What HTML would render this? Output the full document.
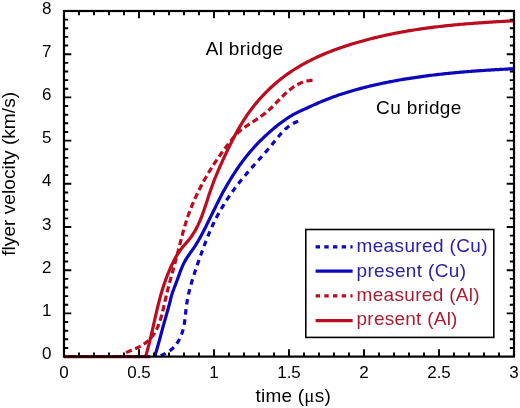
<!DOCTYPE html>
<html><head><meta charset="utf-8"><style>
html,body{margin:0;padding:0;background:#fff;}
body{width:520px;height:408px;overflow:hidden;}
svg{display:block;}
text{font-family:"Liberation Sans",Arial,sans-serif;}
</style></head><body>
<svg width="520" height="408" viewBox="0 0 520 408">
<rect width="520" height="408" fill="#fff"/>
<g fill="none" stroke-width="3.2">
<path d="M64,356.6 H150" stroke="#bb0d1f"/>
<path d="M158.5,356.6 L158.21,356.23 L159.19,355.96 L160.16,355.66 L161.10,355.34 L162.04,354.99 L162.96,354.62 L163.86,354.22 L164.74,353.80 L165.61,353.36 L166.46,352.89 L167.29,352.41 L168.10,351.90 L168.90,351.36 L169.67,350.81 L170.43,350.24 L171.16,349.64 L171.88,349.03 L172.58,348.40 L173.25,347.75 L173.90,347.08 L174.54,346.39 L175.15,345.68 L175.74,344.96 L176.31,344.22 L176.85,343.47 L177.38,342.70 L177.89,341.92 L178.37,341.12 L178.84,340.31 L179.29,339.49 L179.72,338.66 L180.13,337.81 L180.52,336.96 L180.89,336.09 L181.25,335.22 L181.59,334.34 L181.91,333.44 L182.21,332.55 L182.50,331.64 L182.77,330.73 L183.02,329.82 L183.26,328.90 L183.48,327.97 L183.69,327.05 L183.88,326.11 L184.06,325.18 L184.22,324.24 L184.38,323.30 L184.53,322.36 L184.66,321.42 L184.79,320.47 L184.91,319.52 L185.03,318.57 L185.14,317.62 L185.24,316.67 L185.34,315.72 L185.44,314.76 L185.54,313.81 L185.64,312.86 L185.74,311.90 L185.84,310.95 L185.94,310.00 L186.04,309.05 L186.15,308.10 L186.27,307.15 L186.39,306.21 L186.52,305.26 L186.66,304.32 L186.80,303.38 L186.95,302.44 L187.11,301.51 L187.27,300.57 L187.44,299.64 L187.62,298.71 L187.80,297.78 L187.98,296.85 L188.18,295.92 L188.38,295.00 L188.58,294.07 L188.79,293.15 L189.01,292.23 L189.23,291.31 L189.45,290.39 L189.68,289.48 L189.92,288.56 L190.16,287.65 L190.40,286.73 L190.65,285.82 L190.90,284.91 L191.16,284.00 L191.42,283.09 L191.68,282.19 L191.95,281.28 L192.22,280.37 L192.49,279.47 L192.77,278.56 L193.05,277.66 L193.34,276.76 L193.62,275.86 L193.91,274.95 L194.21,274.05 L194.50,273.15 L194.80,272.25 L195.10,271.35 L195.40,270.45 L195.70,269.56 L196.01,268.66 L196.31,267.76 L196.62,266.86 L196.93,265.97 L197.24,265.07 L197.55,264.17 L197.86,263.28 L198.18,262.38 L198.49,261.48 L198.81,260.59 L199.12,259.69 L199.44,258.79 L199.75,257.90 L200.07,257.00 L200.39,256.10 L200.71,255.21 L201.03,254.31 L201.35,253.42 L201.67,252.52 L201.99,251.63 L202.32,250.74 L202.64,249.84 L202.97,248.95 L203.30,248.06 L203.63,247.17 L203.96,246.27 L204.30,245.38 L204.63,244.50 L204.97,243.61 L205.31,242.72 L205.65,241.83 L205.99,240.95 L206.34,240.06 L206.69,239.18 L207.04,238.30 L207.39,237.42 L207.75,236.54 L208.11,235.66 L208.47,234.78 L208.84,233.91 L209.20,233.03 L209.57,232.16 L209.95,231.29 L210.32,230.42 L210.70,229.55 L211.09,228.69 L211.47,227.83 L211.87,226.96 L212.26,226.10 L212.66,225.24 L213.06,224.39 L213.46,223.53 L213.87,222.68 L214.29,221.83 L214.70,220.98 L215.13,220.14 L215.55,219.29 L215.98,218.45 L216.42,217.61 L216.85,216.78 L217.30,215.94 L217.74,215.11 L218.19,214.28 L218.65,213.45 L219.10,212.62 L219.57,211.80 L220.03,210.98 L220.50,210.16 L220.97,209.34 L221.45,208.53 L221.93,207.71 L222.41,206.90 L222.90,206.09 L223.39,205.29 L223.89,204.48 L224.39,203.68 L224.89,202.88 L225.40,202.08 L225.90,201.28 L226.42,200.49 L226.93,199.70 L227.45,198.91 L227.98,198.12 L228.50,197.34 L229.03,196.55 L229.57,195.77 L230.10,194.99 L230.64,194.21 L231.18,193.44 L231.73,192.67 L232.28,191.90 L232.83,191.13 L233.39,190.36 L233.94,189.60 L234.51,188.83 L235.07,188.07 L235.64,187.31 L236.21,186.56 L236.78,185.80 L237.36,185.05 L237.94,184.30 L238.52,183.55 L239.10,182.81 L239.69,182.06 L240.28,181.32 L240.88,180.58 L241.47,179.84 L242.07,179.11 L242.67,178.37 L243.28,177.64 L243.88,176.91 L244.49,176.18 L245.10,175.46 L245.72,174.73 L246.33,174.01 L246.95,173.29 L247.57,172.57 L248.19,171.85 L248.81,171.13 L249.43,170.42 L250.06,169.70 L250.69,168.99 L251.31,168.27 L251.94,167.56 L252.57,166.85 L253.20,166.14 L253.83,165.43 L254.46,164.72 L255.10,164.01 L255.73,163.30 L256.36,162.59 L256.99,161.88 L257.63,161.17 L258.26,160.46 L258.89,159.76 L259.52,159.05 L260.15,158.34 L260.78,157.63 L261.41,156.92 L262.04,156.21 L262.67,155.50 L263.30,154.78 L263.92,154.07 L264.55,153.36 L265.17,152.64 L265.79,151.93 L266.41,151.21 L267.03,150.49 L267.64,149.78 L268.26,149.06 L268.87,148.33 L269.48,147.61 L270.09,146.89 L270.69,146.16 L271.29,145.43 L271.89,144.70 L272.49,143.97 L273.08,143.23 L273.67,142.50 L274.26,141.76 L274.85,141.03 L275.44,140.29 L276.03,139.56 L276.62,138.82 L277.21,138.09 L277.80,137.37 L278.40,136.65 L279.00,135.93 L279.61,135.22 L280.22,134.51 L280.84,133.81 L281.46,133.12 L282.09,132.44 L282.73,131.77 L283.38,131.10 L284.04,130.45 L284.71,129.81 L285.39,129.17 L286.08,128.56 L286.78,127.95 L287.49,127.36 L288.22,126.78 L288.96,126.22 L289.72,125.67 L290.49,125.14 L291.28,124.62 L292.09,124.13 L292.91,123.65 L293.75,123.19 L294.61,122.75 L295.49,122.33 L296.39,121.94 L297.31,121.56 L298.26,121.21" stroke="#0c06bd" stroke-dasharray="5.5 4.7" stroke-dashoffset="7.2"/>
<path d="M122.96,354.04 L123.95,353.53 L124.97,353.05 L126.00,352.58 L127.06,352.12 L128.12,351.67 L129.21,351.22 L130.30,350.78 L131.40,350.33 L132.50,349.88 L133.61,349.43 L134.72,348.96 L135.82,348.48 L136.91,347.98 L138.00,347.46 L139.07,346.92 L140.13,346.35 L141.18,345.76 L142.20,345.15 L143.21,344.51 L144.19,343.85 L145.16,343.17 L146.09,342.46 L147.00,341.73 L147.88,340.97 L148.73,340.20 L149.55,339.39 L150.34,338.57 L151.10,337.72 L151.82,336.85 L152.52,335.96 L153.18,335.04 L153.82,334.11 L154.44,333.16 L155.02,332.20 L155.59,331.21 L156.13,330.21 L156.64,329.19 L157.14,328.16 L157.62,327.11 L158.07,326.05 L158.51,324.98 L158.93,323.90 L159.33,322.80 L159.72,321.69 L160.09,320.57 L160.44,319.45 L160.79,318.31 L161.12,317.17 L161.44,316.02 L161.76,314.87 L162.06,313.71 L162.35,312.54 L162.64,311.37 L162.92,310.20 L163.20,309.02 L163.47,307.84 L163.74,306.67 L164.00,305.49 L164.27,304.31 L164.53,303.13 L164.80,301.96 L165.07,300.78 L165.33,299.61 L165.61,298.45 L165.88,297.29 L166.16,296.13 L166.44,294.97 L166.72,293.82 L167.01,292.67 L167.30,291.52 L167.59,290.38 L167.88,289.24 L168.17,288.10 L168.47,286.96 L168.76,285.83 L169.06,284.70 L169.36,283.57 L169.66,282.44 L169.97,281.31 L170.27,280.18 L170.58,279.06 L170.88,277.94 L171.19,276.81 L171.49,275.69 L171.80,274.57 L172.11,273.45 L172.42,272.33 L172.73,271.21 L173.04,270.09 L173.34,268.97 L173.65,267.86 L173.96,266.74 L174.27,265.62 L174.58,264.50 L174.88,263.38 L175.19,262.25 L175.49,261.13 L175.80,260.01 L176.10,258.88 L176.40,257.76 L176.70,256.63 L177.00,255.50 L177.30,254.37 L177.59,253.24 L177.89,252.10 L178.18,250.97 L178.47,249.83 L178.76,248.69 L179.05,247.55 L179.34,246.41 L179.63,245.26 L179.92,244.12 L180.21,242.98 L180.50,241.83 L180.80,240.69 L181.09,239.54 L181.39,238.40 L181.69,237.26 L181.99,236.11 L182.29,234.97 L182.60,233.83 L182.90,232.69 L183.22,231.55 L183.53,230.41 L183.85,229.28 L184.18,228.14 L184.50,227.01 L184.84,225.88 L185.18,224.75 L185.52,223.62 L185.87,222.50 L186.22,221.38 L186.58,220.26 L186.95,219.15 L187.32,218.04 L187.70,216.93 L188.09,215.82 L188.48,214.72 L188.88,213.62 L189.28,212.52 L189.69,211.42 L190.10,210.33 L190.52,209.24 L190.95,208.16 L191.38,207.07 L191.82,205.99 L192.26,204.91 L192.71,203.84 L193.16,202.76 L193.62,201.69 L194.09,200.63 L194.56,199.56 L195.04,198.50 L195.52,197.44 L196.00,196.38 L196.50,195.32 L196.99,194.27 L197.50,193.22 L198.01,192.17 L198.52,191.12 L199.04,190.08 L199.56,189.04 L200.09,188.00 L200.62,186.96 L201.16,185.93 L201.71,184.90 L202.26,183.87 L202.81,182.84 L203.37,181.81 L203.93,180.79 L204.50,179.77 L205.08,178.75 L205.65,177.73 L206.24,176.72 L206.82,175.71 L207.42,174.70 L208.01,173.69 L208.62,172.68 L209.22,171.68 L209.83,170.68 L210.45,169.68 L211.07,168.68 L211.69,167.68 L212.32,166.69 L212.95,165.70 L213.59,164.71 L214.23,163.72 L214.88,162.73 L215.53,161.75 L216.18,160.77 L216.84,159.80 L217.50,158.82 L218.17,157.85 L218.84,156.88 L219.51,155.91 L220.19,154.95 L220.87,153.99 L221.56,153.03 L222.25,152.07 L222.94,151.12 L223.63,150.17 L224.33,149.22 L225.04,148.28 L225.74,147.34 L226.45,146.40 L227.17,145.47 L227.89,144.54 L228.61,143.61 L229.33,142.68 L230.06,141.76 L230.79,140.84 L231.52,139.93 L232.26,139.02 L233.01,138.12 L233.77,137.23 L234.53,136.35 L235.31,135.49 L236.10,134.63 L236.91,133.79 L237.73,132.97 L238.58,132.17 L239.44,131.38 L240.32,130.62 L241.22,129.88 L242.13,129.15 L243.07,128.45 L244.01,127.75 L244.97,127.07 L245.94,126.41 L246.92,125.75 L247.90,125.10 L248.89,124.45 L249.87,123.81 L250.86,123.17 L251.85,122.53 L252.83,121.89 L253.81,121.25 L254.79,120.61 L255.76,119.96 L256.73,119.32 L257.69,118.66 L258.65,118.00 L259.61,117.34 L260.56,116.66 L261.50,115.98 L262.43,115.29 L263.36,114.59 L264.28,113.88 L265.20,113.16 L266.10,112.42 L267.00,111.68 L267.89,110.91 L268.76,110.14 L269.63,109.35 L270.50,108.55 L271.35,107.73 L272.20,106.91 L273.04,106.08 L273.88,105.24 L274.72,104.39 L275.55,103.54 L276.38,102.69 L277.20,101.83 L278.03,100.98 L278.86,100.12 L279.68,99.27 L280.51,98.41 L281.35,97.57 L282.18,96.72 L283.02,95.89 L283.86,95.06 L284.71,94.24 L285.57,93.43 L286.43,92.64 L287.30,91.86 L288.18,91.09 L289.07,90.33 L289.97,89.60 L290.88,88.88 L291.80,88.18 L292.73,87.51 L293.68,86.85 L294.65,86.22 L295.62,85.61 L296.62,85.03 L297.63,84.48 L298.65,83.95 L299.70,83.45 L300.76,82.99 L301.85,82.56 L302.95,82.16 L304.08,81.79 L305.23,81.46 L306.40,81.17 L307.60,80.92 L308.82,80.71 L310.06,80.54 L311.33,80.41 L312.63,80.33" stroke="#bb0d1f" stroke-dasharray="6.2 3.55" stroke-dashoffset="6.25"/>
<path d="M155.5,356.6 L155.37,354.21 L155.88,352.58 L156.38,350.94 L156.87,349.30 L157.35,347.65 L157.82,346.00 L158.29,344.35 L158.75,342.69 L159.20,341.04 L159.65,339.38 L160.10,337.71 L160.54,336.05 L160.98,334.39 L161.43,332.73 L161.87,331.07 L162.32,329.40 L162.77,327.74 L163.23,326.09 L163.69,324.43 L164.15,322.78 L164.62,321.13 L165.09,319.48 L165.56,317.84 L166.03,316.20 L166.50,314.56 L166.96,312.93 L167.42,311.30 L167.88,309.68 L168.32,308.06 L168.76,306.44 L169.19,304.83 L169.61,303.22 L170.01,301.61 L170.40,300.02 L170.80,298.42 L171.21,296.83 L171.64,295.24 L172.12,293.66 L172.64,292.08 L173.21,290.51 L173.80,288.95 L174.40,287.41 L175.00,285.89 L175.57,284.40 L176.13,282.94 L176.67,281.50 L177.21,280.05 L177.73,278.59 L178.27,277.11 L178.81,275.60 L179.36,274.06 L179.93,272.50 L180.52,270.94 L181.13,269.36 L181.77,267.78 L182.45,266.21 L183.16,264.65 L183.91,263.11 L184.71,261.59 L185.56,260.10 L186.44,258.63 L187.37,257.19 L188.32,255.76 L189.29,254.34 L190.27,252.93 L191.27,251.53 L192.26,250.13 L193.25,248.72 L194.22,247.31 L195.17,245.88 L196.10,244.45 L197.01,243.00 L197.89,241.54 L198.76,240.06 L199.60,238.58 L200.43,237.09 L201.25,235.59 L202.05,234.08 L202.84,232.56 L203.62,231.04 L204.39,229.51 L205.16,227.98 L205.92,226.44 L206.67,224.90 L207.43,223.36 L208.19,221.81 L208.94,220.27 L209.70,218.72 L210.46,217.17 L211.22,215.63 L211.98,214.09 L212.74,212.54 L213.50,211.00 L214.27,209.46 L215.03,207.93 L215.79,206.40 L216.55,204.87 L217.31,203.34 L218.07,201.82 L218.83,200.31 L219.59,198.80 L220.35,197.30 L221.12,195.80 L221.89,194.31 L222.66,192.83 L223.45,191.36 L224.25,189.90 L225.07,188.44 L225.90,186.99 L226.74,185.55 L227.59,184.10 L228.45,182.66 L229.32,181.21 L230.20,179.77 L231.09,178.32 L232.00,176.87 L232.91,175.43 L233.83,173.99 L234.76,172.55 L235.71,171.11 L236.66,169.68 L237.63,168.26 L238.61,166.84 L239.60,165.43 L240.60,164.02 L241.61,162.62 L242.63,161.23 L243.67,159.86 L244.72,158.49 L245.78,157.13 L246.85,155.79 L247.93,154.45 L249.03,153.13 L250.13,151.82 L251.25,150.51 L252.38,149.23 L253.53,147.95 L254.68,146.68 L255.84,145.42 L257.02,144.17 L258.20,142.94 L259.40,141.71 L260.61,140.50 L261.83,139.29 L263.06,138.10 L264.30,136.91 L265.55,135.74 L266.81,134.58 L268.08,133.42 L269.36,132.28 L270.66,131.14 L271.96,130.02 L273.27,128.90 L274.59,127.80 L275.92,126.70 L277.26,125.62 L278.61,124.55 L279.97,123.50 L281.35,122.46 L282.73,121.45 L284.12,120.45 L285.51,119.47 L286.92,118.51 L288.34,117.58 L289.77,116.68 L291.21,115.79 L292.66,114.94 L294.12,114.12 L295.59,113.33 L297.06,112.57 L298.54,111.84 L300.03,111.15 L301.52,110.48 L303.03,109.81 L304.54,109.13 L306.07,108.43 L307.60,107.74 L309.14,107.03 L310.69,106.32 L312.25,105.61 L313.81,104.91 L315.38,104.20 L316.96,103.50 L318.54,102.81 L320.12,102.13 L321.71,101.46 L323.30,100.80 L324.90,100.16 L326.50,99.52 L328.10,98.89 L329.71,98.28 L331.32,97.67 L332.94,97.08 L334.55,96.49 L336.17,95.92 L337.80,95.35 L339.42,94.80 L341.05,94.25 L342.69,93.72 L344.32,93.19 L345.96,92.67 L347.60,92.16 L349.25,91.66 L350.89,91.17 L352.54,90.69 L354.19,90.22 L355.85,89.75 L357.50,89.29 L359.16,88.84 L360.82,88.40 L362.48,87.96 L364.15,87.54 L365.81,87.12 L367.48,86.70 L369.15,86.30 L370.82,85.90 L372.49,85.50 L374.17,85.12 L375.84,84.74 L377.52,84.37 L379.20,84.00 L380.88,83.64 L382.56,83.28 L384.24,82.93 L385.93,82.59 L387.61,82.25 L389.30,81.92 L390.98,81.59 L392.67,81.27 L394.36,80.95 L396.05,80.64 L397.74,80.33 L399.43,80.03 L401.12,79.74 L402.82,79.45 L404.51,79.16 L406.21,78.88 L407.90,78.60 L409.60,78.33 L411.30,78.07 L413.00,77.81 L414.70,77.55 L416.40,77.30 L418.10,77.05 L419.80,76.81 L421.50,76.57 L423.21,76.34 L424.91,76.11 L426.62,75.88 L428.32,75.66 L430.03,75.45 L431.73,75.23 L433.44,75.02 L435.15,74.82 L436.86,74.62 L438.57,74.42 L440.28,74.23 L441.99,74.04 L443.70,73.86 L445.41,73.67 L447.12,73.50 L448.83,73.32 L450.54,73.15 L452.25,72.98 L453.97,72.82 L455.68,72.66 L457.39,72.50 L459.11,72.34 L460.82,72.19 L462.54,72.04 L464.25,71.90 L465.96,71.76 L467.68,71.62 L469.39,71.48 L471.11,71.34 L472.83,71.21 L474.54,71.08 L476.26,70.96 L477.97,70.83 L479.69,70.71 L481.40,70.59 L483.12,70.48 L484.84,70.36 L486.55,70.25 L488.27,70.14 L489.98,70.03 L491.70,69.93 L493.41,69.82 L495.13,69.72 L496.84,69.62 L498.56,69.53 L500.27,69.43 L501.99,69.33 L503.70,69.24 L505.42,69.15 L507.13,69.06 L508.85,68.97 L510.56,68.88 L512.27,68.80 L513.99,68.71" stroke="#0c06bd"/>
<path d="M145.5,356.6 L146.27,354.18 L146.79,352.39 L147.29,350.59 L147.79,348.79 L148.27,347.00 L148.74,345.20 L149.20,343.41 L149.65,341.62 L150.09,339.83 L150.53,338.04 L150.95,336.25 L151.38,334.46 L151.79,332.67 L152.20,330.89 L152.61,329.11 L153.01,327.33 L153.42,325.55 L153.82,323.77 L154.21,322.00 L154.61,320.23 L155.01,318.46 L155.41,316.69 L155.82,314.92 L156.22,313.16 L156.63,311.40 L157.05,309.64 L157.47,307.88 L157.89,306.13 L158.33,304.38 L158.77,302.63 L159.22,300.89 L159.67,299.15 L160.14,297.41 L160.62,295.68 L161.11,293.94 L161.61,292.22 L162.12,290.49 L162.65,288.77 L163.19,287.05 L163.75,285.34 L164.33,283.63 L164.92,281.92 L165.52,280.22 L166.14,278.52 L166.78,276.82 L167.44,275.12 L168.12,273.43 L168.81,271.74 L169.52,270.05 L170.25,268.36 L171.00,266.67 L171.77,264.99 L172.57,263.32 L173.39,261.66 L174.24,260.01 L175.12,258.37 L176.03,256.75 L176.98,255.15 L177.97,253.58 L179.00,252.02 L180.07,250.50 L181.18,249.00 L182.33,247.53 L183.53,246.09 L184.74,244.67 L185.97,243.25 L187.18,241.83 L188.38,240.40 L189.54,238.96 L190.66,237.49 L191.73,235.99 L192.76,234.46 L193.74,232.91 L194.69,231.34 L195.59,229.74 L196.46,228.13 L197.30,226.49 L198.11,224.84 L198.88,223.17 L199.63,221.48 L200.35,219.78 L201.05,218.07 L201.73,216.34 L202.39,214.60 L203.03,212.85 L203.65,211.09 L204.27,209.32 L204.87,207.55 L205.46,205.77 L206.05,203.99 L206.63,202.21 L207.21,200.42 L207.79,198.63 L208.37,196.84 L208.96,195.06 L209.55,193.27 L210.15,191.49 L210.76,189.72 L211.38,187.95 L212.01,186.19 L212.66,184.43 L213.31,182.69 L213.98,180.94 L214.66,179.20 L215.35,177.47 L216.04,175.74 L216.75,174.02 L217.47,172.30 L218.19,170.59 L218.93,168.88 L219.67,167.18 L220.42,165.48 L221.18,163.78 L221.94,162.08 L222.72,160.39 L223.49,158.71 L224.28,157.02 L225.07,155.34 L225.86,153.66 L226.66,151.99 L227.47,150.31 L228.27,148.64 L229.09,146.97 L229.91,145.30 L230.73,143.64 L231.56,141.97 L232.40,140.32 L233.25,138.67 L234.10,137.02 L234.97,135.37 L235.84,133.74 L236.73,132.11 L237.62,130.48 L238.53,128.87 L239.45,127.26 L240.39,125.66 L241.34,124.07 L242.30,122.48 L243.29,120.91 L244.28,119.34 L245.30,117.79 L246.33,116.25 L247.38,114.71 L248.44,113.19 L249.53,111.68 L250.63,110.18 L251.74,108.70 L252.88,107.22 L254.03,105.76 L255.20,104.31 L256.38,102.88 L257.58,101.45 L258.79,100.04 L260.03,98.65 L261.27,97.26 L262.53,95.89 L263.81,94.54 L265.10,93.20 L266.41,91.87 L267.73,90.56 L269.07,89.26 L270.42,87.98 L271.79,86.72 L273.17,85.47 L274.56,84.24 L275.97,83.02 L277.39,81.82 L278.82,80.63 L280.27,79.47 L281.73,78.32 L283.20,77.18 L284.69,76.07 L286.19,74.97 L287.70,73.89 L289.23,72.83 L290.76,71.79 L292.31,70.76 L293.87,69.75 L295.44,68.76 L297.02,67.78 L298.61,66.83 L300.22,65.88 L301.83,64.96 L303.45,64.04 L305.08,63.15 L306.73,62.27 L308.38,61.41 L310.04,60.56 L311.70,59.72 L313.38,58.90 L315.06,58.09 L316.76,57.30 L318.45,56.52 L320.16,55.76 L321.88,55.01 L323.60,54.27 L325.32,53.54 L327.06,52.83 L328.79,52.13 L330.54,51.45 L332.29,50.77 L334.04,50.11 L335.80,49.45 L337.57,48.81 L339.34,48.19 L341.11,47.57 L342.89,46.96 L344.67,46.36 L346.45,45.78 L348.24,45.20 L350.03,44.63 L351.82,44.08 L353.61,43.53 L355.41,42.99 L357.21,42.46 L359.01,41.94 L360.81,41.43 L362.61,40.93 L364.41,40.44 L366.22,39.95 L368.03,39.47 L369.83,39.00 L371.64,38.54 L373.46,38.09 L375.27,37.65 L377.08,37.21 L378.90,36.78 L380.72,36.36 L382.53,35.95 L384.35,35.55 L386.17,35.15 L388.00,34.76 L389.82,34.37 L391.65,34.00 L393.47,33.63 L395.30,33.27 L397.13,32.92 L398.96,32.57 L400.79,32.23 L402.62,31.89 L404.46,31.57 L406.29,31.25 L408.13,30.93 L409.96,30.63 L411.80,30.32 L413.64,30.03 L415.48,29.74 L417.32,29.46 L419.16,29.18 L421.01,28.91 L422.85,28.64 L424.70,28.38 L426.54,28.13 L428.39,27.88 L430.24,27.64 L432.09,27.40 L433.94,27.17 L435.79,26.94 L437.64,26.72 L439.49,26.50 L441.34,26.29 L443.20,26.08 L445.05,25.87 L446.91,25.68 L448.76,25.48 L450.62,25.29 L452.48,25.11 L454.33,24.92 L456.19,24.75 L458.05,24.57 L459.91,24.40 L461.77,24.24 L463.64,24.08 L465.50,23.92 L467.36,23.77 L469.22,23.62 L471.09,23.47 L472.95,23.32 L474.81,23.18 L476.68,23.05 L478.54,22.91 L480.41,22.78 L482.28,22.65 L484.14,22.53 L486.01,22.40 L487.88,22.28 L489.75,22.16 L491.61,22.05 L493.48,21.93 L495.35,21.82 L497.22,21.72 L499.09,21.61 L500.96,21.50 L502.83,21.40 L504.70,21.30 L506.57,21.20 L508.44,21.10 L510.31,21.01 L512.18,20.91 L514.05,20.82" stroke="#bb0d1f"/>
</g>
<rect x="64" y="11" width="450" height="345.6" fill="none" stroke="#000" stroke-width="2.2"/>
<path d="M79.00,356.6 v-4.2 M79.00,11 v4.2 M94.00,356.6 v-4.2 M94.00,11 v4.2 M109.00,356.6 v-4.2 M109.00,11 v4.2 M124.00,356.6 v-4.2 M124.00,11 v4.2 M139.00,356.6 v-7.3 M139.00,11 v7.3 M154.00,356.6 v-4.2 M154.00,11 v4.2 M169.00,356.6 v-4.2 M169.00,11 v4.2 M184.00,356.6 v-4.2 M184.00,11 v4.2 M199.00,356.6 v-4.2 M199.00,11 v4.2 M214.00,356.6 v-7.3 M214.00,11 v7.3 M229.00,356.6 v-4.2 M229.00,11 v4.2 M244.00,356.6 v-4.2 M244.00,11 v4.2 M259.00,356.6 v-4.2 M259.00,11 v4.2 M274.00,356.6 v-4.2 M274.00,11 v4.2 M289.00,356.6 v-7.3 M289.00,11 v7.3 M304.00,356.6 v-4.2 M304.00,11 v4.2 M319.00,356.6 v-4.2 M319.00,11 v4.2 M334.00,356.6 v-4.2 M334.00,11 v4.2 M349.00,356.6 v-4.2 M349.00,11 v4.2 M364.00,356.6 v-7.3 M364.00,11 v7.3 M379.00,356.6 v-4.2 M379.00,11 v4.2 M394.00,356.6 v-4.2 M394.00,11 v4.2 M409.00,356.6 v-4.2 M409.00,11 v4.2 M424.00,356.6 v-4.2 M424.00,11 v4.2 M439.00,356.6 v-7.3 M439.00,11 v7.3 M454.00,356.6 v-4.2 M454.00,11 v4.2 M469.00,356.6 v-4.2 M469.00,11 v4.2 M484.00,356.6 v-4.2 M484.00,11 v4.2 M499.00,356.6 v-4.2 M499.00,11 v4.2 M64,347.96 h4.2 M514,347.96 h-4.2 M64,339.32 h4.2 M514,339.32 h-4.2 M64,330.68 h4.2 M514,330.68 h-4.2 M64,322.04 h4.2 M514,322.04 h-4.2 M64,313.40 h7.3 M514,313.40 h-7.3 M64,304.76 h4.2 M514,304.76 h-4.2 M64,296.12 h4.2 M514,296.12 h-4.2 M64,287.48 h4.2 M514,287.48 h-4.2 M64,278.84 h4.2 M514,278.84 h-4.2 M64,270.20 h7.3 M514,270.20 h-7.3 M64,261.56 h4.2 M514,261.56 h-4.2 M64,252.92 h4.2 M514,252.92 h-4.2 M64,244.28 h4.2 M514,244.28 h-4.2 M64,235.64 h4.2 M514,235.64 h-4.2 M64,227.00 h7.3 M514,227.00 h-7.3 M64,218.36 h4.2 M514,218.36 h-4.2 M64,209.72 h4.2 M514,209.72 h-4.2 M64,201.08 h4.2 M514,201.08 h-4.2 M64,192.44 h4.2 M514,192.44 h-4.2 M64,183.80 h7.3 M514,183.80 h-7.3 M64,175.16 h4.2 M514,175.16 h-4.2 M64,166.52 h4.2 M514,166.52 h-4.2 M64,157.88 h4.2 M514,157.88 h-4.2 M64,149.24 h4.2 M514,149.24 h-4.2 M64,140.60 h7.3 M514,140.60 h-7.3 M64,131.96 h4.2 M514,131.96 h-4.2 M64,123.32 h4.2 M514,123.32 h-4.2 M64,114.68 h4.2 M514,114.68 h-4.2 M64,106.04 h4.2 M514,106.04 h-4.2 M64,97.40 h7.3 M514,97.40 h-7.3 M64,88.76 h4.2 M514,88.76 h-4.2 M64,80.12 h4.2 M514,80.12 h-4.2 M64,71.48 h4.2 M514,71.48 h-4.2 M64,62.84 h4.2 M514,62.84 h-4.2 M64,54.20 h7.3 M514,54.20 h-7.3 M64,45.56 h4.2 M514,45.56 h-4.2 M64,36.92 h4.2 M514,36.92 h-4.2 M64,28.28 h4.2 M514,28.28 h-4.2 M64,19.64 h4.2 M514,19.64 h-4.2" stroke="#000" stroke-width="1.9" fill="none"/>
<g font-size="17" fill="#000"><text x="64.00" y="377.5" text-anchor="middle">0</text><text x="139.00" y="377.5" text-anchor="middle">0.5</text><text x="214.00" y="377.5" text-anchor="middle">1</text><text x="289.00" y="377.5" text-anchor="middle">1.5</text><text x="364.00" y="377.5" text-anchor="middle">2</text><text x="439.00" y="377.5" text-anchor="middle">2.5</text><text x="514.00" y="377.5" text-anchor="middle">3</text><text x="51.5" y="359.10" text-anchor="end">0</text><text x="51.5" y="315.90" text-anchor="end">1</text><text x="51.5" y="272.70" text-anchor="end">2</text><text x="51.5" y="229.50" text-anchor="end">3</text><text x="51.5" y="186.30" text-anchor="end">4</text><text x="51.5" y="143.10" text-anchor="end">5</text><text x="51.5" y="99.90" text-anchor="end">6</text><text x="51.5" y="56.70" text-anchor="end">7</text><text x="51.5" y="13.50" text-anchor="end">8</text></g>
<rect x="305.8" y="229.5" width="188" height="107.9" fill="#fff" stroke="#000" stroke-width="1.6"/>
<path d="M315.6,246.8 H352.6" stroke="#0c06bd" stroke-width="3.2" fill="none" stroke-dasharray="4.4 4.3"/><text x="356.5" y="252.4" fill="#2a22a2" font-size="19" letter-spacing="0.36">measured (Cu)</text><path d="M315.6,271.1 H352.6" stroke="#0c06bd" stroke-width="3.2" fill="none"/><text x="356.5" y="276.7" fill="#2a22a2" font-size="19" letter-spacing="0.36">present (Cu)</text><path d="M315.6,295.9 H352.6" stroke="#bb0d1f" stroke-width="3.2" fill="none" stroke-dasharray="4.4 4.3"/><text x="356.5" y="300.7" fill="#a81c34" font-size="19" letter-spacing="0.32">measured (Al)</text><path d="M315.6,320.6 H352.6" stroke="#bb0d1f" stroke-width="3.2" fill="none"/><text x="356.5" y="325.3" fill="#a81c34" font-size="19" letter-spacing="0.25">present (Al)</text>
<text x="205.8" y="55.3" font-size="19" fill="#000" letter-spacing="0.3">Al bridge</text>
<text x="376.1" y="113.5" font-size="19" fill="#000" letter-spacing="0.36">Cu bridge</text>
<text x="255.5" y="401.5" font-size="19" fill="#000" letter-spacing="0.22">time (<tspan font-family="Liberation Serif">μ</tspan>s)</text>
<text transform="translate(14.8,255.7) rotate(-90)" font-size="19.15" fill="#000">flyer velocity (km/s)</text>
</svg>
</body></html>
